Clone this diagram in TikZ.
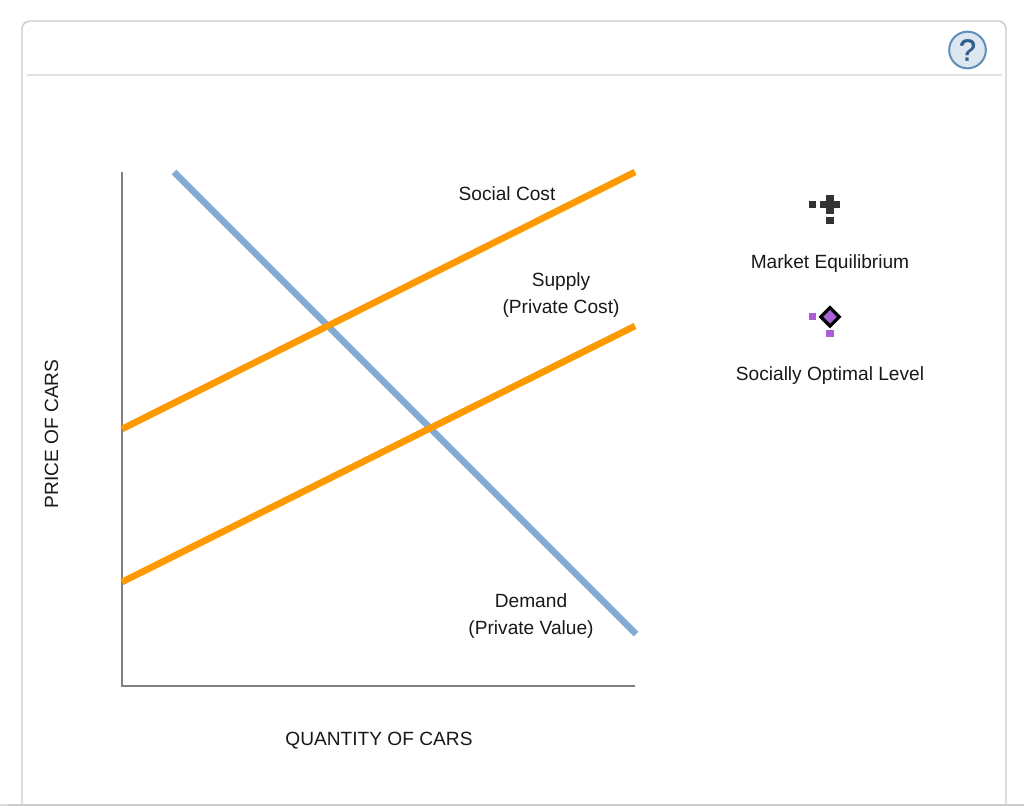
\documentclass[tikz,border=0pt]{standalone}
\usepackage{fontspec}
\setmainfont{Liberation Sans}
\newfontfamily\helpfont[FakeBold=1.2]{Liberation Sans}
\definecolor{frameC}{HTML}{CCCCCC}
\definecolor{sepC}{HTML}{E2E2E2}
\definecolor{axisC}{HTML}{808080}
\definecolor{orangeC}{HTML}{FF9900}
\definecolor{blueC}{HTML}{84ABD3}
\definecolor{darkC}{HTML}{333333}
\definecolor{purpleC}{HTML}{AB5FD6}
\definecolor{helpF}{HTML}{DDE7F0}
\definecolor{helpD}{HTML}{5F8FB8}
\definecolor{helpT}{HTML}{2F5F8F}
\tikzset{
  x=0.75pt,y=-0.75pt,
  lbl/.style={font=\fontsize{14.35pt}{16pt}\selectfont,text=black!90,inner sep=0pt,anchor=base},
  axisline/.style={draw=axisC,line width=1.3pt},
  curveO/.style={draw=orangeC,line width=5pt},
  curveB/.style={draw=blueC,line width=5pt},
}
\begin{document}
\begin{tikzpicture}
\useasboundingbox (0,0) rectangle (1024,806);
\fill[white] (0,0) rectangle (1024,806);
% frame
\draw[frameC,line width=1.1pt,rounded corners=6pt] (22,806) -- (22,21) -- (1006,21) -- (1006,806);
\draw[frameC!70,line width=1pt] (0,805) -- (8,805);
\draw[frameC,line width=1pt] (8,805) -- (1024,805);
\draw[sepC,line width=0.9pt] (27,75) -- (1002,75);
% help
\node[circle,draw=helpD,fill=helpF,line width=1.5pt,minimum size=27.5pt,inner sep=0pt,
      font=\fontsize{23pt}{23pt}\helpfont,text=helpT] (help) at (967.5,50) {?};
% axes
\coordinate (origin) at (122,686);
\coordinate (ytop) at (122,172);
\coordinate (xend) at (635,686);
\draw[axisline] (ytop) -- (origin) -- (xend);
% curves
\coordinate (d1) at (174,172);
\coordinate (d2) at (636,634);
\coordinate (sc1) at (122,429);
\coordinate (sc2) at (635,172);
\coordinate (s1) at (122,582);
\coordinate (s2) at (635,326);
\draw[curveB] (d1) -- (d2);
\draw[curveO] (sc1) -- (sc2);
\draw[curveO] (s1) -- (s2);
% labels
\node[lbl] (lsc) at (507,200.5) {Social Cost};
\node[lbl] (ls1) at (561,286.5) {Supply};
\node[lbl] (ls2) at (561,313.5) {(Private Cost)};
\node[lbl] (ld1) at (531,607.5) {Demand};
\node[lbl] (ld2) at (531,634.5) {(Private Value)};
\node[lbl] (lq) at (379,745.5) {QUANTITY OF CARS};
\node[lbl,rotate=90] (lp) at (58,434) {PRICE OF CARS};
\node[lbl] (lme) at (830,268.3) {Market Equilibrium};
\node[lbl] (lso) at (830,380.3) {Socially Optimal Level};
% market equilibrium symbol
\fill[darkC] (808.7,200.7) rectangle (816,208);
\fill[darkC] (826.2,217) rectangle (833.5,224.3);
\fill[darkC] (826.2,195) rectangle (833.5,214);
\fill[darkC] (820,200.7) rectangle (839.7,208);
% socially optimal symbol
\fill[purpleC] (808.7,313) rectangle (816,320.3);
\fill[purpleC] (826.2,329.5) rectangle (833.5,336.8);
\draw[black,fill=purpleC,line width=2.4pt,miter limit=10] (830,307.6) -- (839.2,316.8) -- (830,326) -- (820.8,316.8) -- cycle;
\end{tikzpicture}
\end{document}
